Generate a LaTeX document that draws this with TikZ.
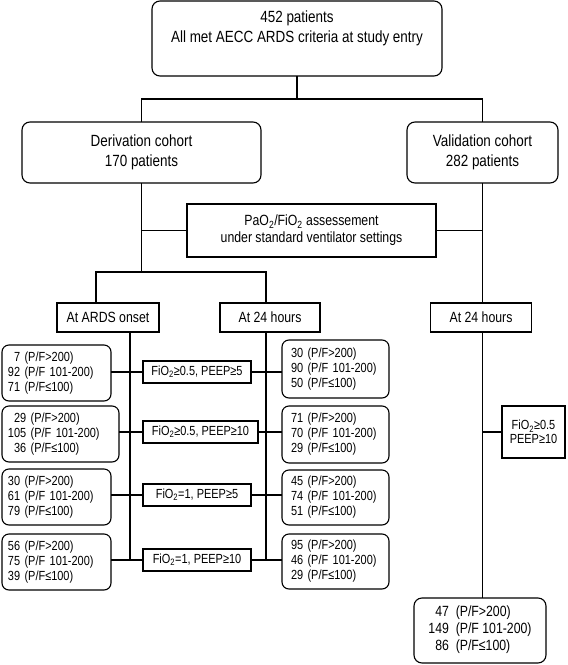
\documentclass[tikz,border=0pt]{standalone}
\usepackage{fontspec}
\setmainfont{Liberation Sans}[FakeStretch=0.83]
\begin{document}
\begin{tikzpicture}[x=1pt,y=-1pt,
  line width=1.1pt,
  every node/.style={inner sep=0pt, outer sep=0pt},
  rbox/.style={draw, rounded corners=8pt, line width=1.1pt},
  sbox/.style={draw, line width=1.1pt},
  big/.style={font=\fontsize{16.2}{20}\selectfont},
  med/.style={font=\fontsize{14.8}{17}\selectfont},
  small/.style={font=\fontsize{13.2}{15}\selectfont},
  obox/.style={draw, rounded corners=7pt, line width=1.1pt, small, minimum height=56pt, align=left, anchor=west},
  fbox/.style={sbox, small, minimum height=22pt, anchor=west}
]
\useasboundingbox (0,0) rectangle (568,665);

% top
\node[rbox, minimum width=290pt, minimum height=75pt] (top) at (297,38.5) {};
\node[big, align=center] (toptext) at (297,28) {452 patients\\All met AECC ARDS criteria at study entry};

% cohorts
\node[rbox, big, align=center, minimum width=239pt, minimum height=61pt] (deriv) at (141.5,152.5) {Derivation cohort\\170 patients};
\node[rbox, big, align=center, minimum width=151pt, minimum height=61pt] (valid) at (482.5,152.5) {Validation cohort\\282 patients};

% assessment
\node[sbox, med, align=center, minimum width=249pt, minimum height=53pt] (pao) at (311.5,230.5) {PaO\textsubscript{2}/FiO\textsubscript{2} assessement\\under standard ventilator settings};

% time points
\node[sbox, med, minimum width=102pt, minimum height=29pt] (ards) at (108,317.5) {At ARDS onset};
\node[sbox, med, minimum width=100pt, minimum height=29pt] (mid) at (270,317.5) {At 24 hours};
\node[sbox, med, minimum width=101pt, minimum height=29pt] (r24) at (481,317.5) {At 24 hours};

% settings
\node[fbox, minimum width=108pt] (f1) at (143,372) {FiO\textsubscript{2}≥0.5, PEEP≥5};
\node[fbox, minimum width=115pt] (f2) at (143,432) {FiO\textsubscript{2}≥0.5, PEEP≥10};
\node[fbox, minimum width=108pt] (f3) at (143,495) {FiO\textsubscript{2}=1, PEEP≥5};
\node[fbox, minimum width=108pt] (f4) at (143,560) {FiO\textsubscript{2}=1, PEEP≥10};

% left outcomes
\node[obox, text width=97pt, inner xsep=6pt] (l1) at (2,373) {\begin{tabular}{@{}r@{\ }l@{}}7&(P/F>200)\\92&(P/F 101-200)\\71&(P/F≤100)\end{tabular}};
\node[obox, text width=105pt, inner xsep=6pt] (l2) at (2,434) {\begin{tabular}{@{}r@{\ }l@{}}29&(P/F>200)\\105&(P/F 101-200)\\36&(P/F≤100)\end{tabular}};
\node[obox, text width=97pt, inner xsep=6pt] (l3) at (2,497) {\begin{tabular}{@{}r@{\ }l@{}}30&(P/F>200)\\61&(P/F 101-200)\\79&(P/F≤100)\end{tabular}};
\node[obox, text width=97pt, inner xsep=6pt] (l4) at (2,562) {\begin{tabular}{@{}r@{\ }l@{}}56&(P/F>200)\\75&(P/F 101-200)\\39&(P/F≤100)\end{tabular}};

% middle outcomes
\node[obox, text width=89pt, inner xsep=9pt, minimum height=58pt] (r1) at (282,369) {30 (P/F>200)\\90 (P/F 101-200)\\50 (P/F≤100)};
\node[obox, text width=89pt, inner xsep=9pt, minimum height=57pt] (r2) at (282,434.5) {71 (P/F>200)\\70 (P/F 101-200)\\29 (P/F≤100)};
\node[obox, text width=89pt, inner xsep=9pt, minimum height=55pt] (r3) at (282,497.5) {45 (P/F>200)\\74 (P/F 101-200)\\51 (P/F≤100)};
\node[obox, text width=89pt, inner xsep=9pt, minimum height=55pt] (r4) at (282,561.5) {95 (P/F>200)\\46 (P/F 101-200)\\29 (P/F≤100)};

% validation branch
\node[sbox, font=\fontsize{13.2}{14}\selectfont, align=center, minimum width=63pt, minimum height=52pt] (rf) at (533.5,432) {FiO\textsubscript{2}≥0.5\\PEEP≥10};
\node[rbox, med, minimum width=132pt, minimum height=65pt] (bot) at (480,630.5) {\begin{tabular}{@{}r@{\ \ }l@{}}47&(P/F>200)\\149&(P/F 101-200)\\86&(P/F≤100)\end{tabular}};

% helper coordinates
\coordinate (bus1) at (0,99);
\coordinate (bus2) at (0,272);
\coordinate (lv) at (130,0);
\coordinate (mv) at (266,0);
\coordinate (av) at (96,0);

% connectors
\draw (top.south) -- (top.south |- bus1);
\draw (deriv.north) -- (deriv.north |- bus1) -- (valid.north |- bus1) -- (valid.north);
\draw (pao.west) -- (pao.west -| deriv.south);
\draw (pao.east) -- (pao.east -| valid.south);
\draw (deriv.south) -- (deriv.south |- bus2);
\draw (ards.north -| av) -- (av |- bus2) -- (mv |- bus2) -- (mid.north -| mv);
\draw (ards.south -| lv) -- (lv |- f4.west);
\draw (mid.south -| mv) -- (mv |- f4.east);
\foreach \i in {1,2,3,4} {
  \draw (l\i.east |- f\i.west) -- (f\i.west);
  \draw (f\i.east) -- (r\i.west |- f\i.east);
}
\draw (valid.south) -- (valid.south |- r24.north);
\draw (r24.south -| valid.south) -- (valid.south |- bot.north);
\draw (rf.west) -- (rf.west -| valid.south);
\end{tikzpicture}
\end{document}
